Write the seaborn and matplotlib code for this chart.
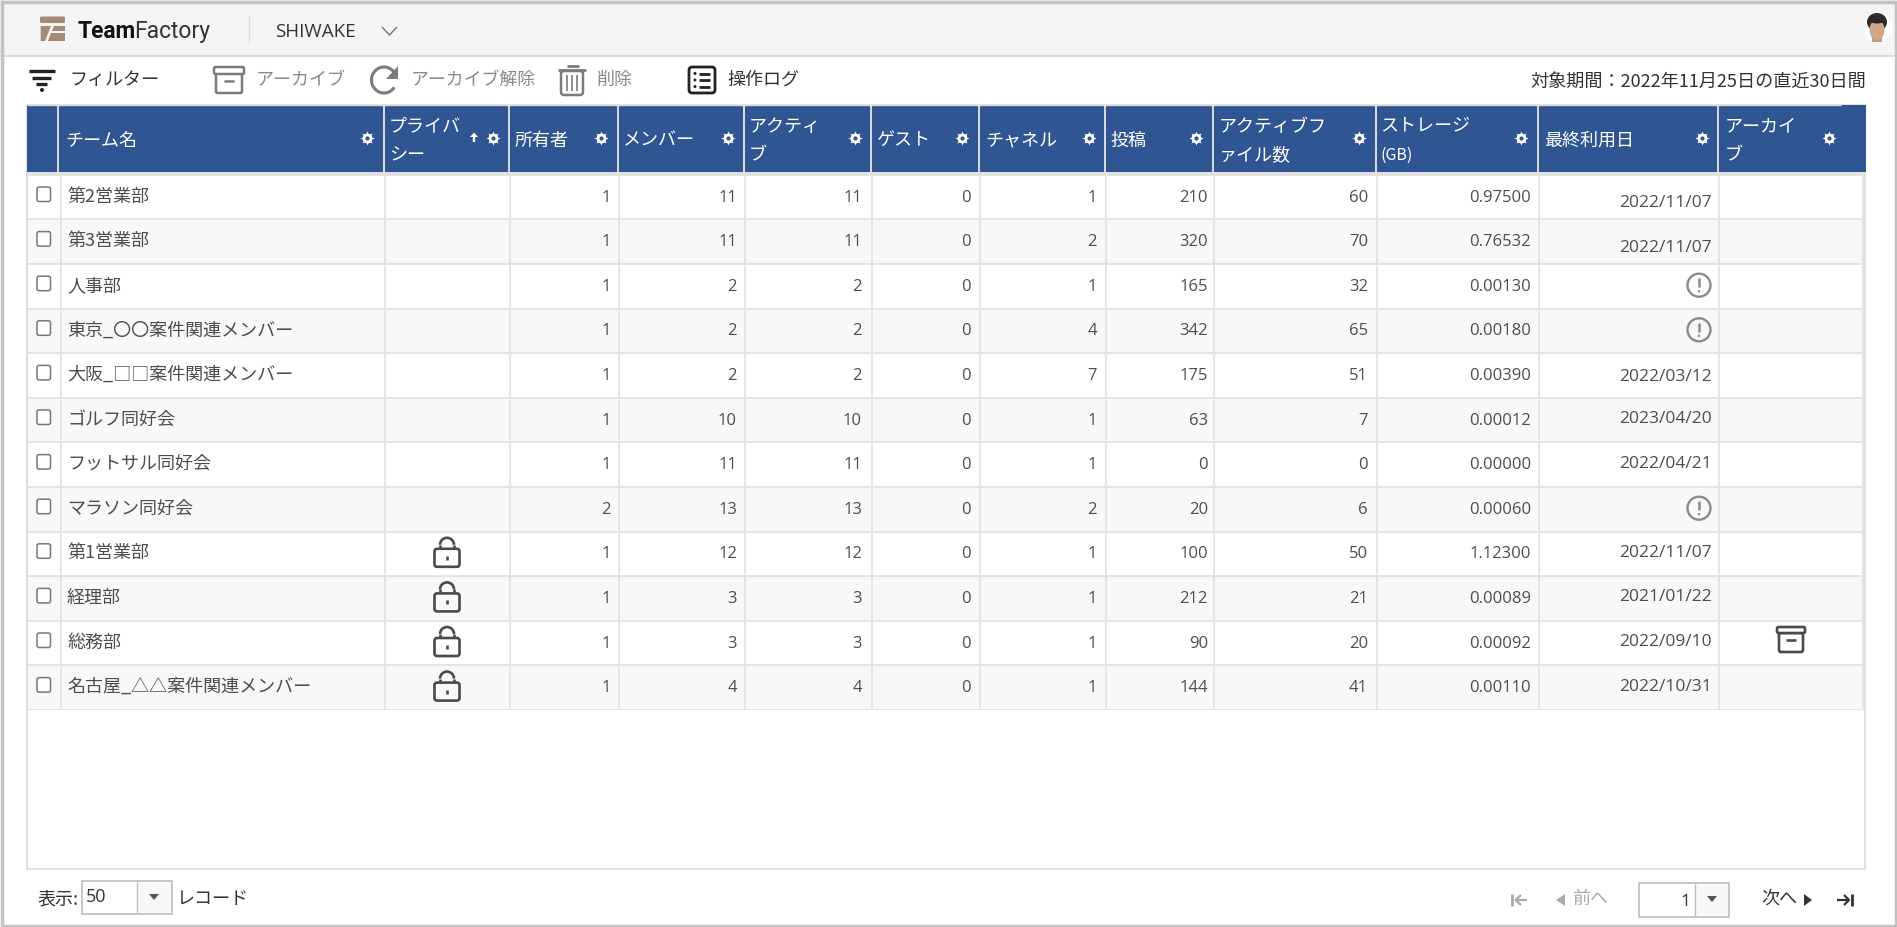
import numpy as np
import matplotlib
matplotlib.use("Agg")
import matplotlib.pyplot as plt
from matplotlib.colors import ListedColormap
from matplotlib.patches import Rectangle, FancyBboxPatch, Circle, Arc, Polygon, Ellipse
import seaborn as sns

# ---- data ----
team_names = ["第2営業部", "第3営業部", "人事部", "東京_〇〇案件関連メンバー", "大阪_□□案件関連メンバー",
              "ゴルフ同好会", "フットサル同好会", "マラソン同好会", "第1営業部", "経理部", "総務部",
              "名古屋_△△案件関連メンバー"]
private = [0, 0, 0, 0, 0, 0, 0, 0, 1, 1, 1, 1]
owners = [1, 1, 1, 1, 1, 1, 1, 2, 1, 1, 1, 1]
members = [11, 11, 2, 2, 2, 10, 11, 13, 12, 3, 3, 4]
active = [11, 11, 2, 2, 2, 10, 11, 13, 12, 3, 3, 4]
guests = [0] * 12
channels = [1, 2, 1, 4, 7, 1, 1, 2, 1, 1, 1, 1]
posts = [210, 320, 165, 342, 175, 63, 0, 20, 100, 212, 90, 144]
active_files = [60, 70, 32, 65, 51, 7, 0, 6, 50, 21, 20, 41]
storage = ["0.97500", "0.76532", "0.00130", "0.00180", "0.00390", "0.00012", "0.00000", "0.00060",
           "1.12300", "0.00089", "0.00092", "0.00110"]
last_used = ["2022/11/07", "2022/11/07", None, None, "2022/03/12", "2023/04/20", "2022/04/21", None,
             "2022/11/07", "2021/01/22", "2022/09/10", "2022/10/31"]
archived = [0, 0, 0, 0, 0, 0, 0, 0, 0, 0, 1, 0]
date_shift = [6, 6, 0, 0, 2, -1, -1, 0, -1, -1, -1, -1]

headers = [["チーム名"], ["プライバ", "シー"], ["所有者"], ["メンバー"], ["アクティ", "ブ"], ["ゲスト"], ["チャネル"],
           ["投稿"], ["アクティブフ", "ァイル数"], ["ストレージ", "(GB)"], ["最終利用日"], ["アーカイ", "ブ"]]
header_x = [65, 389, 515, 623, 749, 876, 985, 1110, 1219, 1380, 1544, 1725]
gear_x = [367, 493, 601, 728, 855, 962, 1089, 1196, 1359, 1521, 1702, 1829]
col_edges = [27, 58, 384, 509, 618, 744, 871, 979, 1105, 1213, 1376, 1538, 1718, 1866]

# ---- style ----
sns.set_theme(style="white")
CJK = ["Noto Sans CJK JP", "DejaVu Sans"]
plt.rcParams["font.family"] = CJK
NUM = ["Open Sans", "Noto Sans CJK JP"]
BLUE = "#305593"
TXT = "#4d4d4d"
LINE = "#e4e4e4"
GREY = "#7b7b7b"
DARK = "#4a4a4a"

W, H = 1897, 927
fig = plt.figure(figsize=(W / 100, H / 100), dpi=100, facecolor="white")

# zebra rows: a one-column seaborn heatmap covering the body of the table
row_top, row_h, n_rows = 174.7, 44.6, len(team_names)
tbl_l, tbl_r = 27, 1863
ax_rows = fig.add_axes([tbl_l / W, 1 - (row_top + row_h * n_rows) / H,
                        (tbl_r - tbl_l) / W, row_h * n_rows / H], zorder=0)
zebra = np.arange(n_rows).reshape(-1, 1) % 2
sns.heatmap(zebra, ax=ax_rows, cmap=ListedColormap(["#ffffff", "#f8f8f8"]), cbar=False,
            xticklabels=False, yticklabels=False, linewidths=1.4, linecolor=LINE)

ax = fig.add_axes([0, 0, 1, 1], zorder=1)
ax.set_xlim(0, W)
ax.set_ylim(H, 0)
ax.axis("off")
ax.patch.set_alpha(0)


def rect(x0, y0, x1, y1, fc="none", ec="none", lw=0, z=1):
    ax.add_patch(Rectangle((x0, y0), x1 - x0, y1 - y0, fc=fc, ec=ec, lw=lw, zorder=z))


def rrect(x0, y0, x1, y1, r=2, fc="none", ec=DARK, lw=1.5, z=3):
    ax.add_patch(FancyBboxPatch((x0 + r, y0 + r), x1 - x0 - 2 * r, y1 - y0 - 2 * r,
                                boxstyle=f"round,pad={r},rounding_size={r}", fc=fc, ec=ec, lw=lw, zorder=z))


def seg(xs, ys, c=DARK, lw=1.5, z=3):
    ax.plot(xs, ys, color=c, lw=lw, zorder=z, solid_capstyle="butt")


def txt(x, y, s, size=13, c=TXT, ha="left", fam=CJK, weight="normal", z=4):
    ax.text(x, y, s, fontsize=size, color=c, ha=ha, va="center", family=fam, fontweight=weight, zorder=z)


# window frame and top bar
rect(0, 0, W, 56, fc="#f4f4f4")
seg([0, W], [56, 56], c="#dcdcdc", lw=1.5)
rect(1.5, 1.5, W - 1.5, H - 1.5, ec="#c2c2c2", lw=2.5, z=6)

# logo
LOGO = "#a68a78"
rrect(40, 16.5, 65, 23, r=1.5, fc=LOGO, ec="none", lw=0)
ax.add_patch(Polygon([(40.7, 26), (51, 26), (45, 41), (40.7, 41)], fc=LOGO, ec="none"))
ax.add_patch(Polygon([(53.5, 26), (65, 26), (65, 30.5), (52, 30.5)], fc=LOGO, ec="none"))
ax.add_patch(Polygon([(50.5, 33), (65, 33), (65, 41), (47.5, 41)], fc=LOGO, ec="none"))
txt(78, 31, "Team", size=16.4, c="#111111", fam=["Roboto"], weight="bold")
txt(134, 31, "Factory", size=16.5, c="#333333", fam=["Roboto"])
seg([249, 249], [16, 43], c="#dddddd", lw=1)
txt(275, 32, "SHIWAKE", size=13.5, c="#333333", fam=["Open Sans"])
seg([382, 389.5, 397], [27, 35, 27], c="#777777", lw=1)

# avatar
ax.add_patch(Circle((1878, 28), 14.5, fc="white", ec="none", zorder=2))
ax.add_patch(Ellipse((1877, 22), 20, 18, fc="#2f2a28", ec="none", zorder=3))
ax.add_patch(Rectangle((1872, 36), 10, 6, fc="#c29a7e", ec="none", zorder=3))
ax.add_patch(Ellipse((1877, 30), 15, 20, fc="#cfa88c", ec="none", zorder=4))
ax.add_patch(Ellipse((1877, 20), 16, 7, fc="#2f2a28", ec="none", zorder=5))

# toolbar
for y0, x0, x1 in [(71, 29, 55), (78, 32, 51), (84, 36, 47)]:
    seg([x0, x1], [y0, y0], c="#222222", lw=2.4)
ax.add_patch(Circle((42, 90), 2, fc="#222222", ec="none", zorder=3))
txt(69, 80, "フィルター", size=13, c="#333333")

rrect(216, 73, 242, 93, r=1.5, ec=GREY, lw=1.8)
rrect(214, 67, 244, 74, r=1.5, ec=GREY, lw=1.8, fc="white")
seg([224, 234], [81, 81], c=GREY, lw=1.8)
txt(256, 80, "アーカイブ", size=13, c="#8a8a8a")

ax.add_patch(Arc((384, 80), 25, 26, angle=0, theta1=35, theta2=320, ec=GREY, lw=2.2, zorder=3))
ax.add_patch(Polygon([(398, 66), (398, 79), (386, 79)], fc=GREY, ec="none", zorder=3))
txt(411, 80, "アーカイブ解除", size=12.9, c="#8a8a8a")

rrect(561, 71, 583, 95, r=3, ec=GREY, lw=1.8)
seg([558, 586], [70, 70], c=GREY, lw=2)
seg([567, 579], [66, 66], c=GREY, lw=2)
for xx in [567, 572, 577]:
    seg([xx, xx], [75, 91], c=GREY, lw=1.2)
txt(597, 80, "削除", size=13, c="#8a8a8a")

rrect(689, 67, 715, 93, r=3, ec="#222222", lw=2)
for yy in [73.5, 80, 86.5]:
    ax.add_patch(Circle((695, yy), 1.5, fc="#222222", ec="none", zorder=4))
    seg([699, 710], [yy, yy], c="#222222", lw=2)
txt(727, 80, "操作ログ", size=13, c="#333333")

txt(1866, 81.5, "対象期間：2022年11月25日の直近30日間", size=13.1, c="#333333", ha="right")

# table frame and header
rect(27, 105, 1865, 869, ec="#dcdcdc", lw=1.2, z=0.5)
rect(27, 172, 1866, 175, fc="#e2e2e2", z=2)
rect(27, 105, 1866, 172, fc=BLUE, z=2)
seg([27, 1841], [104.5, 104.5], c="#dddddd", lw=1)
for e in col_edges[1:-1]:
    seg([e, e], [105, 172], c="#e8e8e8", lw=1.3)
    ex = 60.5 if e == 58 else e + 0.5
    seg([ex, ex], [175, row_top + row_h * n_rows], c=LINE, lw=1.3)
seg([tbl_r, tbl_r], [175, row_top + row_h * n_rows], c=LINE, lw=1)

for x, lines in zip(header_x, headers):
    if len(lines) == 1:
        txt(x, 140.5, lines[0], size=13, c="white")
    else:
        txt(x, 126.5, lines[0], size=13, c="white")
        small = lines[1].startswith("(")
        txt(x + (1 if small else 0), 155, lines[1], size=11.5 if small else 13, c="white")

gy = [138] * len(gear_x)
sns.scatterplot(x=gear_x, y=gy, ax=ax, marker=(8, 1, 0), s=105, color="white", linewidth=0, zorder=5, legend=False)
sns.scatterplot(x=gear_x, y=gy, ax=ax, marker="o", s=50, color="white", linewidth=0, zorder=5, legend=False)
sns.scatterplot(x=gear_x, y=gy, ax=ax, marker="o", s=9, color=BLUE, linewidth=0, zorder=6, legend=False)
ax.add_patch(Polygon([(470, 137), (474, 132.5), (478, 137)], fc="white", ec="none", zorder=5))
seg([474, 474], [136, 142], c="white", lw=1.7, z=5)
ax.set_xlim(0, W)
ax.set_ylim(H, 0)
ax.axis("off")


# icons
def lock(cx, cy):
    rrect(cx - 12.5, cy - 5, cx + 12.5, cy + 13, r=2.5, ec=DARK, lw=1.9, fc="none")
    ax.add_patch(Arc((cx, cy - 9), 14, 14, theta1=180, theta2=360, ec=DARK, lw=1.9, zorder=3))
    seg([cx - 7, cx - 7], [cy - 9, cy - 5], lw=1.9)
    seg([cx + 7, cx + 7], [cy - 9, cy - 5], lw=1.9)
    seg([cx, cx], [cy + 2, cy + 6], lw=1.9)


def alert(cx, cy):
    ax.add_patch(Circle((cx, cy), 11.5, fc="none", ec="#8a8a8a", lw=1.7, zorder=3))
    seg([cx, cx], [cy - 7, cy + 2], c="#8a8a8a", lw=1.8)
    ax.add_patch(Circle((cx, cy + 6), 1.2, fc="#8a8a8a", ec="none", zorder=3))


def archive_icon(cx, cy):
    rrect(cx - 12, cy - 7, cx + 12, cy + 12, r=2, lw=1.9)
    rrect(cx - 14, cy - 13, cx + 14, cy - 7, r=1.5, lw=1.9, fc="white")
    seg([cx - 5, cx + 5], [cy, cy], lw=1.9)


# body
centers = row_top + row_h * (np.arange(n_rows) + 0.5)
num_rights = [611, 737, 862, 971, 1097, 1208, 1368, 1531]
cols_data = [owners, members, active, guests, channels, posts, active_files, storage]

for i, cy in enumerate(centers):
    rrect(37, cy - 10, 50.5, cy + 4.5, r=2, ec="#777777", lw=1.1, fc="white")
    txt(67, cy - 0.5, team_names[i], size=13, c=TXT)
    for vals, xr in zip(cols_data, num_rights):
        txt(xr, cy + 0.5, str(vals[i]), size=12, c=TXT, ha="right", fam=NUM)
    if private[i]:
        lock(447, cy)
    if last_used[i] is None:
        alert(1699, cy - 1)
    else:
        txt(1712, cy + date_shift[i], last_used[i], size=12.5, c=TXT, ha="right", fam=NUM)
    if archived[i]:
        archive_icon(1791, cy - 3)

# footer
txt(38, 899, "表示:", size=13, c="#333333")
rect(82, 881, 172, 914, fc="white", ec="#bdbdbd", lw=1.2)
rect(138, 882, 171, 913, fc="#f8f8f8")
seg([137, 137], [882, 913], c="#bdbdbd", lw=1)
txt(86, 897, "50", size=13, c="#333333", fam=NUM)
ax.add_patch(Polygon([(149, 894), (159, 894), (154, 900)], fc="#555555", ec="none", zorder=3))
txt(177, 899, "レコード", size=13, c="#333333")

DIS = "#ababab"
seg([1512, 1512], [894, 906], c=DIS, lw=2)
seg([1516, 1527], [900, 900], c=DIS, lw=1.6)
seg([1521, 1515.5, 1521], [895, 900, 905], c=DIS, lw=1.6)
ax.add_patch(Polygon([(1565, 894), (1565, 906), (1556, 900)], fc=DIS, ec="none"))
txt(1572, 899, "前へ", size=13, c=DIS)

rect(1639, 883, 1729, 917, fc="white", ec="#bdbdbd", lw=1.2)
rect(1696, 884, 1728, 916, fc="#f8f8f8")
seg([1695, 1695], [884, 916], c="#bdbdbd", lw=1)
txt(1690, 902, "1", size=12.5, c="#333333", ha="right", fam=NUM)
ax.add_patch(Polygon([(1707, 896), (1717, 896), (1712, 902)], fc="#555555", ec="none", zorder=3))
txt(1761, 899, "次へ", size=13, c="#333333")
ax.add_patch(Polygon([(1804, 894), (1804, 906), (1812, 900)], fc="#333333", ec="none"))
seg([1837, 1849], [900, 900], c="#333333", lw=1.6)
seg([1844, 1849, 1844], [895, 900, 905], c="#333333", lw=1.6)
seg([1851.5, 1851.5], [894, 906], c="#333333", lw=2)

fig.savefig("out.png", dpi=100, facecolor="white")
